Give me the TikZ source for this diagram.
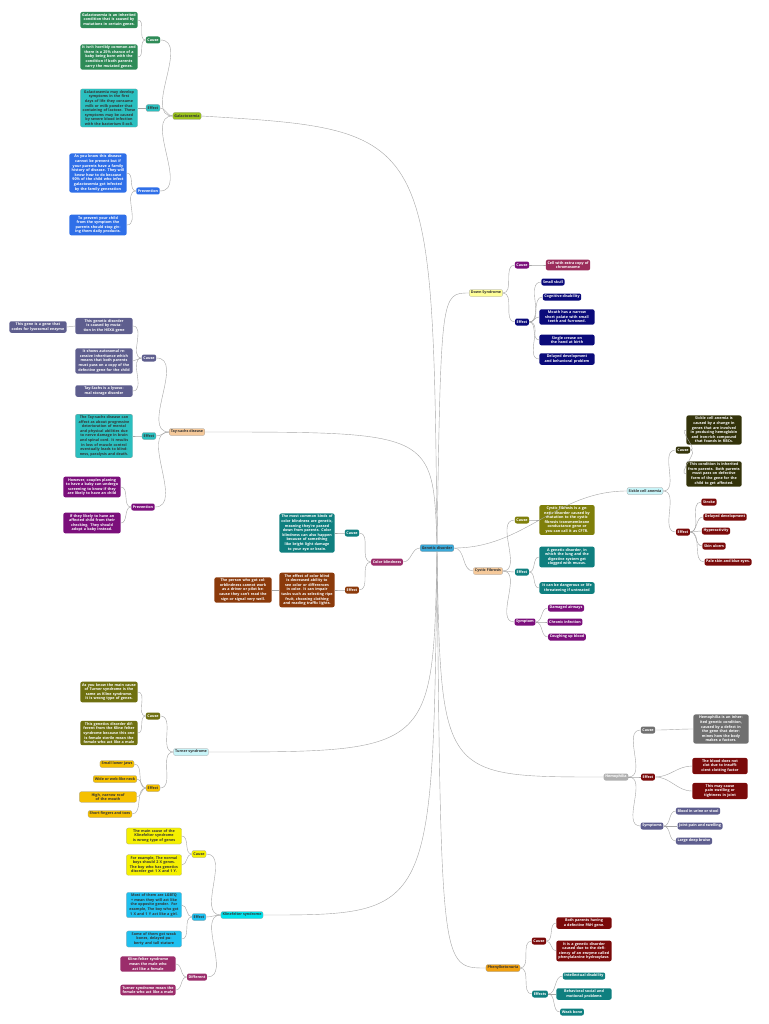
\documentclass[tikz,border=0pt]{standalone}
\usepackage{fontspec}
\setmainfont{Open Sans}
\definecolor{cgreen}{HTML}{2E8B57}\definecolor{colive}{HTML}{9AC21A}
\definecolor{cteal}{HTML}{2BBFBF}\definecolor{cblue}{HTML}{2F6FE8}
\definecolor{cpeach}{HTML}{F5C99A}\definecolor{cslate}{HTML}{5E5E8E}
\definecolor{cpurple}{HTML}{7B0F7B}\definecolor{cmaroon}{HTML}{9B2D6B}
\definecolor{cdteal}{HTML}{0F7F7F}\definecolor{cbrown}{HTML}{8B3A0B}
\definecolor{cyel}{HTML}{FFFF99}\definecolor{cplum}{HTML}{9B2D5B}
\definecolor{cnavy}{HTML}{0A0A7A}\definecolor{clcyan}{HTML}{C8F4F8}
\definecolor{cdolive}{HTML}{33330A}\definecolor{cdred}{HTML}{7A0A0A}
\definecolor{cmolive}{HTML}{7F7F0A}\definecolor{ctolive}{HTML}{6F7010}
\definecolor{corange}{HTML}{F5C000}\definecolor{ccyan}{HTML}{00E5EE}
\definecolor{cyell}{HTML}{F5F000}\definecolor{cbblue}{HTML}{1EC0F0}
\definecolor{cgrey}{HTML}{B0B0B0}\definecolor{cdgrey}{HTML}{707070}
\definecolor{cpku}{HTML}{F0A010}\definecolor{ccenter}{HTML}{3AA8D8}
\tikzset{
 bx/.style={rounded corners=2pt,text=white,align=center,inner sep=1.6pt,font=\fontsize{3.7}{4.6}\selectfont\bfseries,minimum height=7pt},
 dk/.style={text=black!80,draw=black!40,line width=0.2pt},
 conn/.style={draw=gray!70,line width=0.4pt},
}
\newcommand\lnk[2]{\draw[conn] (#1.west) to[out=180,in=0] (#2.east);}
\newcommand\rnk[2]{\draw[conn] (#1.east) to[out=0,in=180] (#2.west);}
\begin{document}
\begin{tikzpicture}[x=1pt,y=-1pt]
\useasboundingbox[fill=white] (0,0) rectangle (768,1024);
\node[bx,dk,fill=ccenter] (g) at (437,548) {Genetic disorder};
% Galactosemia
\node[bx,dk,fill=colive] (ga) at (187,116) {Galactosemia};
\node[bx,fill=cgreen] (gac) at (153,40) {Cause};
\node[bx,fill=cgreen,text width=54pt] (gac1) at (109,20) {Galactosemia is an inherited condition that is caused by mutations in certain genes.};
\node[bx,fill=cgreen,text width=54pt] (gac2) at (109,57) {It isn't horribly common and there is a 25\% chance of a baby being born with the condition if both parents carry the mutated genes.};
\node[bx,dk,fill=cteal] (gae) at (153,108) {Effect};
\node[bx,dk,fill=cteal,text width=54pt] (gae1) at (109,108) {Galactosemia may develop symptoms in the first days of life they consume milk or milk powder that containing of lactose. These symptoms may be caused by severe blood infection with the bacterium E-coli.};
\node[bx,fill=cblue] (gap) at (148,191) {Prevention};
\node[bx,fill=cblue,text width=54pt] (gap1) at (98,173) {As you know this disease cannot be prevent but if your parents have a family history of disease. They will know how to do because 90\% of the child who infect galactosemia got infected by the family generation};
\node[bx,fill=cblue,text width=54pt] (gap2) at (98,225) {To prevent your child from the symptom the parents should stop giving them daily products.};
\lnk{ga}{gac}\lnk{ga}{gae}\lnk{ga}{gap}
\lnk{gac}{gac1}\lnk{gac}{gac2}\lnk{gae}{gae1}\lnk{gap}{gap1}\lnk{gap}{gap2}
% Tay-sachs
\node[bx,dk,fill=cpeach] (ts) at (187,432) {Tay-sachs disease};
\node[bx,fill=cslate] (tsc) at (149,358) {Cause};
\node[bx,fill=cslate,text width=54pt] (tsc1) at (104,326) {This genetic disorder is caused by mutation in the HEXA gene};
\node[bx,fill=cslate,text width=54pt] (tsc0) at (38,327) {This gene is a gene that codes for lysosomal enzyme};
\node[bx,fill=cslate,text width=54pt] (tsc2) at (104,361) {It shows autosomal recessive inheritance which means that both parents must pass on a copy of the defective gene for the child};
\node[bx,fill=cslate,text width=54pt] (tsc3) at (104,391) {Tay-Sachs is a lysosomal storage disorder};
\node[bx,dk,fill=cteal] (tse) at (149,436) {Effect};
\node[bx,dk,fill=cteal,text width=54pt] (tse1) at (104,436) {The Tay-sachs disease can affect as about progressive deterioration of mental and physical abilities due to nerve damage in brain and spinal cord. It results in loss of muscle control eventually leads to blindness, paralysis and death.};
\node[bx,fill=cpurple] (tsp) at (143,507) {Prevention};
\node[bx,fill=cpurple,text width=54pt] (tsp1) at (92,487) {However, couples planing to have a baby can undergo screening to know if they are likely to have an child};
\node[bx,fill=cpurple,text width=54pt] (tsp2) at (92,523) {If they likely to have an affected child from their checking. They should adopt a baby instead.};
\lnk{ts}{tsc}\lnk{ts}{tse}\lnk{ts}{tsp}
\lnk{tsc}{tsc1}\lnk{tsc}{tsc2}\lnk{tsc}{tsc3}\lnk{tsc1}{tsc0}\lnk{tse}{tse1}\lnk{tsp}{tsp1}\lnk{tsp}{tsp2}
% Color blindness
\node[bx,fill=cmaroon] (cb) at (387,562) {Color blindness};
\node[bx,fill=cdteal] (cbc) at (352,533) {Cause};
\node[bx,fill=cdteal,text width=52pt] (cbc1) at (307,533) {The most common kinds of color blindness are genetic, meaning they're passed down from parents. Color blindness can also happen because of something like bright light damage to your eye or brain.};
\node[bx,fill=cbrown] (cbe) at (352,590) {Effect};
\node[bx,fill=cbrown,text width=52pt] (cbe1) at (307,590) {The effect of color blind is decreased ability to see color or differences in color. It can impair tasks such as selecting ripe fruit, choosing clothing and reading traffic lights.};
\node[bx,fill=cbrown,text width=54pt] (cbe2) at (243,590) {The person who got colorblindness cannot work as a driver or pilot because they can't read the sign or signal very well.};
\lnk{cb}{cbc}\lnk{cb}{cbe}\lnk{cbc}{cbc1}\lnk{cbe}{cbe1}\lnk{cbe1}{cbe2}
% Down syndrome
\node[bx,dk,fill=cyel] (ds) at (486,293) {Down Syndrome};
\node[bx,fill=cpurple] (dsc) at (522,265) {Cause};
\node[bx,fill=cplum] (dsc1) at (568,265) {Cell with extra copy of\\chromosome};
\node[bx,fill=cnavy] (dse) at (522,322) {Effect};
\node[bx,fill=cnavy] (dse1) at (553,282) {Small skull};
\node[bx,fill=cnavy] (dse2) at (562,297) {Cognitive disability};
\node[bx,fill=cnavy,text width=52pt] (dse3) at (567,317) {Mouth has a narrow short palate with small teeth and furrowed.};
\node[bx,fill=cnavy,text width=52pt] (dse4) at (567,340) {Single crease on the hand at birth};
\node[bx,fill=cnavy,text width=52pt] (dse5) at (567,359) {Delayed development and behavioral problem};
\rnk{ds}{dsc}\rnk{ds}{dse}\rnk{dsc}{dsc1}
\foreach \i in {1,...,5}{\rnk{dse}{dse\i}}
% Sickle cell
\node[bx,dk,fill=clcyan] (sc) at (645,491) {Sickle cell anemia};
\node[bx,fill=cdolive] (scc) at (683,450) {Cause};
\node[bx,fill=cdolive,text width=52pt] (scc1) at (714,430) {Sickle cell anemia is caused by a change in genes that are involved in producing hemoglobin and iron-rich compound that founds in RBCs.};
\node[bx,fill=cdolive,text width=52pt] (scc2) at (714,474) {This condition is inherited from parents. Both parents must pass on defective form of the gene for the child to get affected.};
\node[bx,fill=cdred] (sce) at (683,532) {Effect};
\node[bx,fill=cdred] (sce1) at (709,502) {Stroke};
\node[bx,fill=cdred] (sce2) at (725,517) {Delayed development};
\node[bx,fill=cdred] (sce3) at (716,531) {Hyperactivity};
\node[bx,fill=cdred] (sce4) at (714,546) {Skin ulcers};
\node[bx,fill=cdred] (sce5) at (728,562) {Pale skin and blue eyes.};
\rnk{sc}{scc}\rnk{sc}{sce}\rnk{scc}{scc1}\rnk{scc}{scc2}
\foreach \i in {1,...,5}{\rnk{sce}{sce\i}}
% Cystic fibrosis
\node[bx,dk,fill=cpeach] (cf) at (488,571) {Cystic Fibrosis};
\node[bx,fill=cmolive] (cfc) at (522,520) {Cause};
\node[bx,fill=cmolive,text width=52pt] (cfc1) at (567,520) {Cystic Fibrosis is a genetic disorder caused by mutation to the cystic fibrosis transmembrane conductance gene or you can call it as CFTR.};
\node[bx,fill=cdteal] (cfe) at (522,572) {Effect};
\node[bx,fill=cdteal,text width=52pt] (cfe1) at (567,557) {A genetic disorder, in which the lung and the digestive system get clogged with mucus.};
\node[bx,fill=cdteal,text width=52pt] (cfe2) at (567,588) {It can be dangerous or life threatening if untreated};
\node[bx,fill=cpurple] (cfs) at (525,622) {Symptom};
\node[bx,fill=cpurple] (cfs1) at (566,608) {Damaged airways};
\node[bx,fill=cpurple] (cfs2) at (565,622) {Chronic infection};
\node[bx,fill=cpurple] (cfs3) at (567,637) {Coughing up blood};
\rnk{cf}{cfc}\rnk{cf}{cfe}\rnk{cf}{cfs}\rnk{cfc}{cfc1}\rnk{cfe}{cfe1}\rnk{cfe}{cfe2}
\foreach \i in {1,2,3}{\rnk{cfs}{cfs\i}}
% Turner
\node[bx,dk,fill=clcyan] (tu) at (191,752) {Turner syndrome};
\node[bx,fill=ctolive] (tuc) at (153,716) {Cause};
\node[bx,fill=ctolive,text width=54pt] (tuc1) at (109,692) {As you know the main cause of Turner syndrome is the same as Kline syndrome. It is wrong type of genes.};
\node[bx,fill=ctolive,text width=54pt] (tuc2) at (109,733) {This genetics disorder different from the Kline felter syndrome because this one is female sterile mean the female who act like a male};
\node[bx,dk,fill=corange] (tue) at (153,788) {Effect};
\node[bx,dk,fill=corange] (tue1) at (117,764) {Small lower jaws};
\node[bx,dk,fill=corange] (tue2) at (115,779) {Wide or web-like neck};
\node[bx,dk,fill=corange,text width=54pt] (tue3) at (108,797) {High, narrow roof of the mouth};
\node[bx,dk,fill=corange] (tue4) at (110,814) {Short fingers and toes};
\lnk{tu}{tuc}\lnk{tu}{tue}\lnk{tuc}{tuc1}\lnk{tuc}{tuc2}
\foreach \i in {1,...,4}{\lnk{tue}{tue\i}}
% Klinefelter
\node[bx,dk,fill=ccyan] (kl) at (242,915) {Klinefelter syndrome};
\node[bx,dk,fill=cyell] (klc) at (199,854) {Cause};
\node[bx,dk,fill=cyell,text width=52pt] (klc1) at (154,836) {The main cause of the Klinefelter syndrome is wrong type of genes};
\node[bx,dk,fill=cyell,text width=52pt] (klc2) at (154,865) {For example, The normal boys should 2 X genes. The boy who has genetics disorder got 1 X and 1 Y.};
\node[bx,dk,fill=cbblue] (kle) at (199,917) {Effect};
\node[bx,dk,fill=cbblue,text width=52pt] (kle1) at (154,905) {Most of them are LGBTQ + mean they will act like the opposite gender. For example, The boy who got 1 X and 1 Y act like a girl.};
\node[bx,dk,fill=cbblue,text width=52pt] (kle2) at (154,939) {Some of them got weak bones, delayed puberty and tall stature};
\node[bx,fill=cmaroon] (kld) at (197,977) {Different};
\node[bx,fill=cmaroon,text width=52pt] (kld1) at (148,964) {Kline-felter syndrome mean the male who act like a female};
\node[bx,fill=cmaroon,text width=52pt] (kld2) at (148,990) {Turner syndrome mean the female who act like a male};
\lnk{kl}{klc}\lnk{kl}{kle}\lnk{kl}{kld}\lnk{klc}{klc1}\lnk{klc}{klc2}\lnk{kle}{kle1}\lnk{kle}{kle2}\lnk{kld}{kld1}\lnk{kld}{kld2}
% Hemophilia
\node[bx,fill=cgrey] (he) at (616,777) {Hemophilia};
\node[bx,fill=cdgrey] (hec) at (648,730) {Cause};
\node[bx,fill=cdgrey,text width=52pt] (hec1) at (721,729) {Hemophilia is an inherited genetic condition, caused by a defect in\\the gene that determines how the body makes a factors.};
\node[bx,fill=cdred] (hee) at (648,777) {Effect};
\node[bx,fill=cdred,text width=52pt] (hee1) at (720,766) {The blood does not clot due to insufficient clotting factor};
\node[bx,fill=cdred,text width=52pt] (hee2) at (720,791) {This may cause pain swelling or tightness in joint};
\node[bx,fill=cslate] (hes) at (652,826) {Symptoms};
\node[bx,fill=cslate] (hes1) at (698,811) {Blood in urine or stool};
\node[bx,fill=cslate] (hes2) at (700,826) {Joint pain and swelling};
\node[bx,fill=cslate] (hes3) at (694,841) {Large deep bruise};
\rnk{he}{hec}\rnk{he}{hee}\rnk{he}{hes}\rnk{hec}{hec1}\rnk{hee}{hee1}\rnk{hee}{hee2}
\foreach \i in {1,2,3}{\rnk{hes}{hes\i}}
% PKU
\node[bx,dk,fill=cpku] (pk) at (503,968) {Phenylketonuria};
\node[bx,fill=cdred] (pkc) at (539,941) {Cause};
\node[bx,fill=cdred,text width=52pt] (pkc1) at (584,923) {Both parents having a defective PAH gene.};
\node[bx,fill=cdred,text width=52pt] (pkc2) at (584,951) {It is a genetic disorder caused due to the deficiency of an enzyme called phenylalanine hydroxylase.};
\node[bx,fill=cdteal] (pke) at (540,994) {Effects};
\node[bx,fill=cdteal] (pke1) at (584,976) {Intellectual disability};
\node[bx,fill=cdteal,text width=52pt] (pke2) at (584,994) {Behavioral social and motional problems};
\node[bx,fill=cdteal] (pke3) at (572,1012) {Weak bone};
\rnk{pk}{pkc}\rnk{pk}{pke}\rnk{pkc}{pkc1}\rnk{pkc}{pkc2}
\foreach \i in {1,2,3}{\rnk{pke}{pke\i}}
% center links
\draw[conn] (g.north) .. controls (433,130) .. (ga.east);
\draw[conn] (g.north) .. controls (433,432) .. (ts.east);
\draw[conn] (g.west) to[out=180,in=0] (cb.east);
\draw[conn] (g.south) .. controls (433,752) .. (tu.east);
\draw[conn] (g.south) .. controls (433,915) .. (kl.east);
\draw[conn] (g.north) .. controls (441,293) .. (ds.west);
\draw[conn] (g.east) to[out=0,in=180] (sc.west);
\draw[conn] (g.east) to[out=0,in=180] (cf.west);
\draw[conn] (g.south) .. controls (441,777) .. (he.west);
\draw[conn] (g.south) .. controls (441,968) .. (pk.west);
\end{tikzpicture}
\end{document}
